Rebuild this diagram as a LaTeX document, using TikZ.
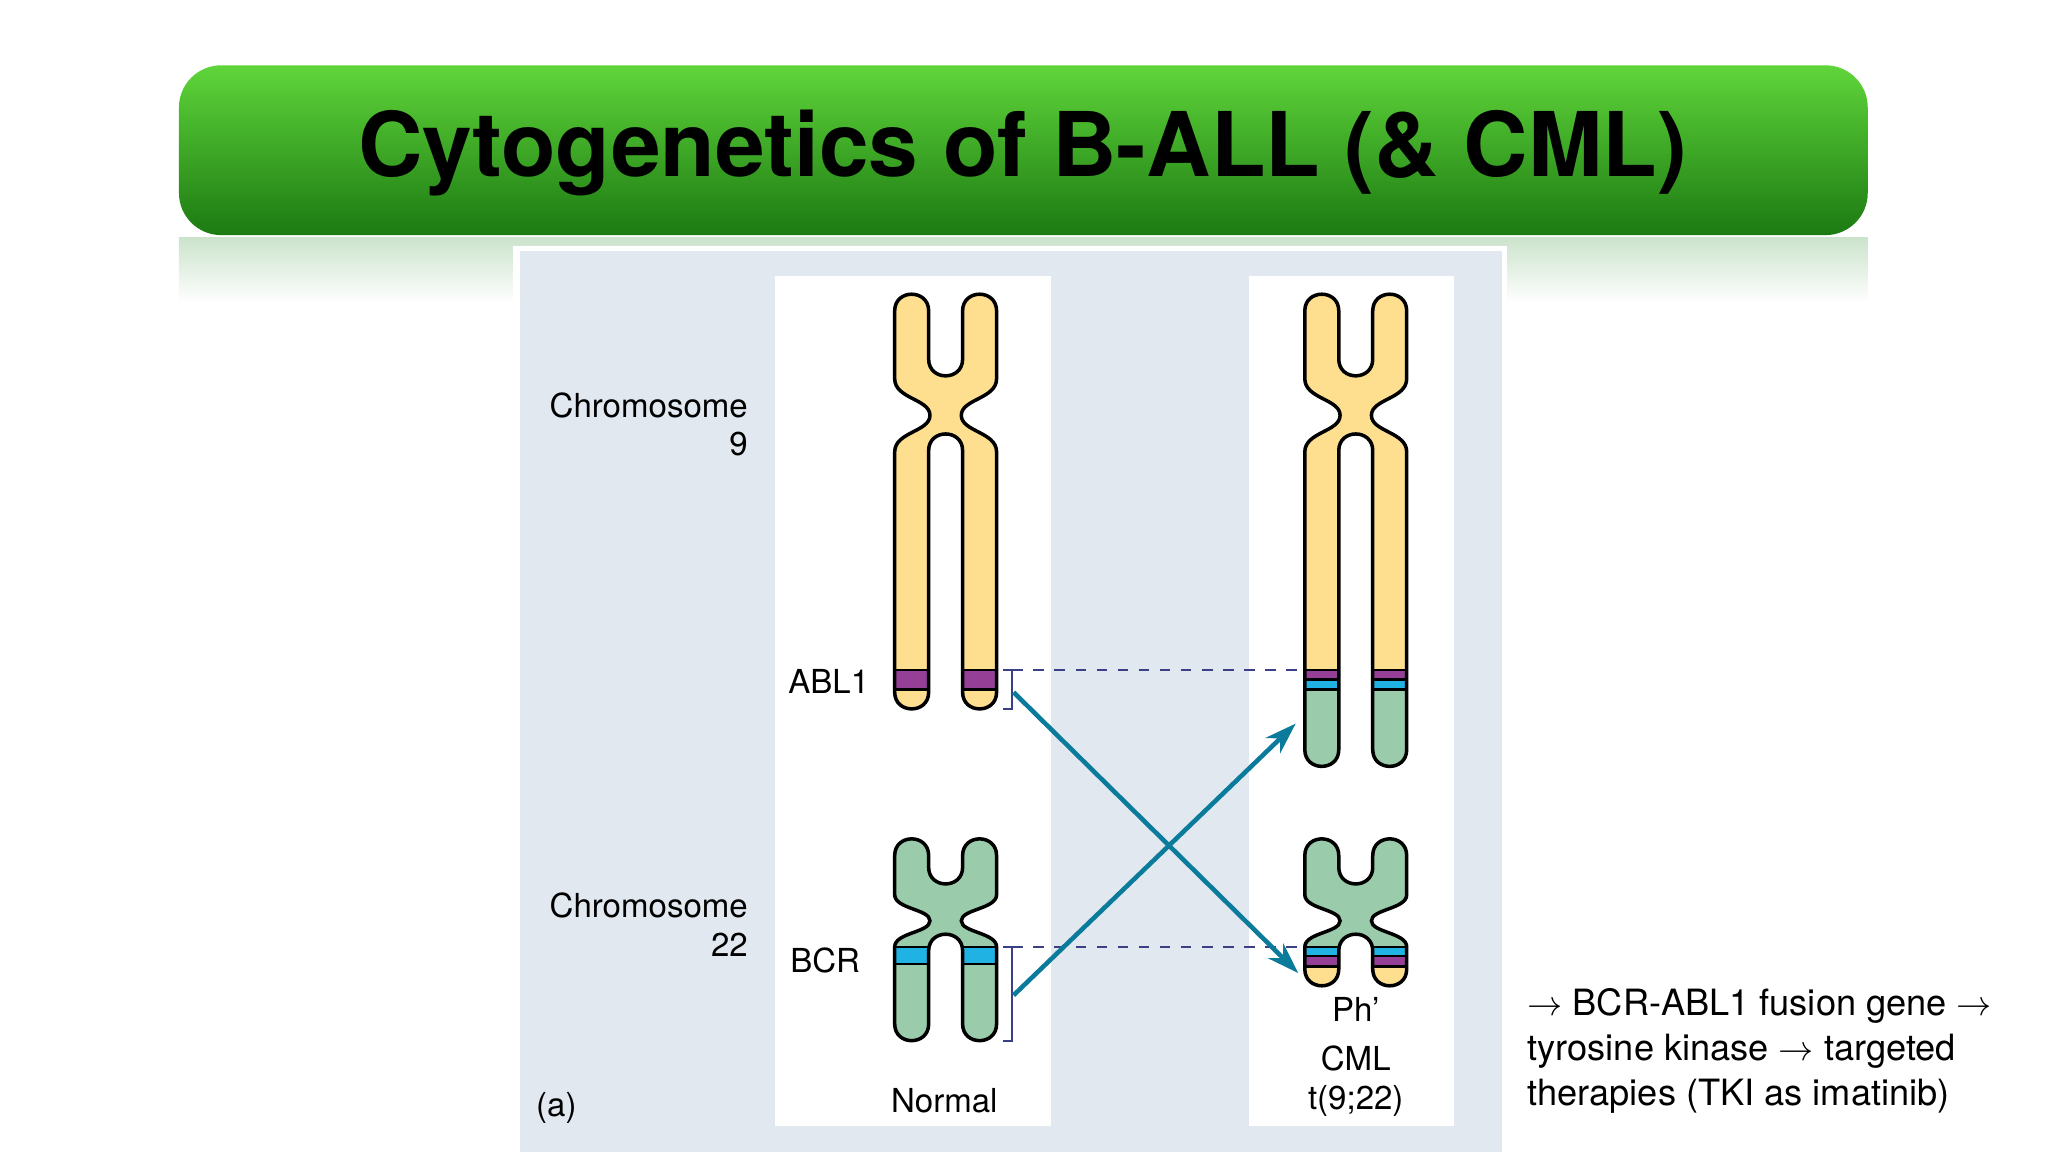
\documentclass[tikz,border=0pt]{standalone}
\usepackage{fontspec}
\setmainfont{TeX Gyre Heros}
\definecolor{panel}{HTML}{E1E8F0}
\definecolor{yel}{HTML}{FDDF8F}
\definecolor{grn}{HTML}{9ACBAA}
\definecolor{pur}{HTML}{953F97}
\definecolor{cya}{HTML}{1FB2E3}
\definecolor{teal}{HTML}{0B7B9C}
\definecolor{navy}{HTML}{3A3F86}
% chromosome outline: cx, top, cusp1, waist, half waist span, cusp2, bottom
\newcommand\chrpath[7]{({#1-39},{#2+13}) .. controls ({#1-39},{#2-4}) and ({#1-13},{#2-4}) .. ({#1-13},{#2+13})
 -- ({#1-13},#3) .. controls ({#1-13},{#3+17}) and ({#1+13},{#3+17}) .. ({#1+13},#3)
 -- ({#1+13},{#2+13}) .. controls ({#1+13},{#2-4}) and ({#1+39},{#2-4}) .. ({#1+39},{#2+13})
 -- ({#1+39},{#4-#5}) .. controls ({#1+39},{#4-0.45*#5}) and ({#1+12},{#4-0.45*#5}) .. ({#1+12},#4)
 .. controls ({#1+12},{#4+0.45*#5}) and ({#1+39},{#4+0.45*#5}) .. ({#1+39},{#4+#5})
 -- ({#1+39},{#7-13}) .. controls ({#1+39},{#7+4}) and ({#1+13},{#7+4}) .. ({#1+13},{#7-13})
 -- ({#1+13},#6) .. controls ({#1+13},{#6-17}) and ({#1-13},{#6-17}) .. ({#1-13},#6)
 -- ({#1-13},{#7-13}) .. controls ({#1-13},{#7+4}) and ({#1-39},{#7+4}) .. ({#1-39},{#7-13})
 -- ({#1-39},{#4+#5}) .. controls ({#1-39},{#4+0.45*#5}) and ({#1-12},{#4+0.45*#5}) .. ({#1-12},#4)
 .. controls ({#1-12},{#4-0.45*#5}) and ({#1-39},{#4-0.45*#5}) .. ({#1-39},{#4-#5}) -- cycle}
% band: cx, y1, y2, colour
\newcommand\band[4]{\fill[#4] ({#1-45},#2) rectangle ({#1+45},#3);
 \draw[line width=0.8pt] ({#1-45},#2) -- ({#1+45},#2) ({#1-45},#3) -- ({#1+45},#3);}
\tikzset{
  lab/.style={font=\fontsize{9.4}{11}\selectfont},
  chrline/.style={line width=1pt},
  xarrow/.style={teal,line width=1.3pt,-{Stealth[length=9pt,width=6pt]}},
  dashln/.style={navy,dashed,line width=0.7pt},
}
\usetikzlibrary{arrows.meta}
\begin{document}
\begin{tikzpicture}[x=0.01306cm,y=-0.01306cm]
\useasboundingbox (0,0) rectangle (1568,882);
\fill[white] (0,0) rectangle (1568,882);
% title bar and reflection
\shade[top color=green!45!black!20,bottom color=white] (137,182) rectangle (1430,232);
\shade[rounded corners=12pt,top color={rgb,255:red,95;green,213;blue,58},bottom color={rgb,255:red,28;green,122;blue,18}] (137,50) rectangle (1430,180);
\node (title) at (783,117) {\fontsize{25.4}{26}\selectfont\bfseries Cytogenetics of B-ALL (\& CML)};
% panel
\fill[white] (393,188) rectangle (1154,882);
\fill[panel] (398,192) rectangle (1150,882);
\fill[white] (593,211) rectangle (805,862);
\fill[white] (956,211) rectangle (1113,862);
% labels
\node[lab,align=right,anchor=east] (c9) at (582,325) {Chromosome\\9};
\node[lab,align=right,anchor=east] (c22) at (582,708) {Chromosome\\22};
\node[lab,anchor=east] (abl) at (675,522) {ABL1};
\node[lab,anchor=east] (bcr) at (668,735) {BCR};
\node[lab] (a) at (426,848) {(a)};
\node[lab] (normal) at (723,843) {Normal};
\node[lab] (ph) at (1038,773) {Ph'};
\node[lab,align=center] (cml) at (1038,828) {CML\\t(9;22)};
% normal chromosome 9
\begin{scope}\clip \chrpath{724}{225}{275}{318}{28}{345}{543};
\fill[yel] (680,220) rectangle (770,550); \band{724}{513}{528}{pur}\end{scope}
\draw[chrline] \chrpath{724}{225}{275}{318}{28}{345}{543};
% normal chromosome 22
\begin{scope}\clip \chrpath{724}{642}{664}{705}{20}{728}{797};
\fill[grn] (680,635) rectangle (770,800); \band{724}{725}{738}{cya}\end{scope}
\draw[chrline] \chrpath{724}{642}{664}{705}{20}{728}{797};
% derivative 9
\begin{scope}\clip \chrpath{1038}{225}{275}{318}{28}{345}{587};
\fill[yel] (990,220) rectangle (1085,513); \fill[grn] (990,528) rectangle (1085,600);
\band{1038}{513}{520}{pur}\band{1038}{520}{528}{cya}\end{scope}
\draw[chrline] \chrpath{1038}{225}{275}{318}{28}{345}{587};
% Philadelphia
\begin{scope}\clip \chrpath{1038}{642}{664}{705}{20}{728}{755};
\fill[grn] (990,635) rectangle (1085,725); \fill[yel] (990,740) rectangle (1085,760);
\band{1038}{725}{732}{cya}\band{1038}{732}{740}{pur}\end{scope}
\draw[chrline] \chrpath{1038}{642}{664}{705}{20}{728}{755};
% brackets and dashed lines
\coordinate (b9t) at (768,513); \coordinate (b9b) at (768,543);
\coordinate (b22t) at (768,725); \coordinate (b22b) at (768,797);
\coordinate (d9) at (995,513); \coordinate (d22) at (995,725);
\draw[navy,line width=0.7pt] (b9t) -| (775,543) -- (b9b);
\draw[navy,line width=0.7pt] (b22t) -| (775,797) -- (b22b);
\draw[dashln] (775,513) -- (d9);
\draw[dashln] (775,725) -- (d22);
% translocation arrows
\coordinate (s1) at (776,530); \coordinate (e1) at (994,745);
\coordinate (s2) at (776,762); \coordinate (e2) at (992,554);
\draw[xarrow] (s1) -- (e1);
\draw[xarrow] (s2) -- (e2);
% note
\node[anchor=north west,align=left,inner sep=0pt,font=\fontsize{10.3}{12.8}\selectfont] (note) at (1169,756)
 {$\rightarrow$ BCR-ABL1 fusion gene $\rightarrow$\\tyrosine kinase $\rightarrow$ targeted\\therapies (TKI as imatinib)};
\end{tikzpicture}
\end{document}
